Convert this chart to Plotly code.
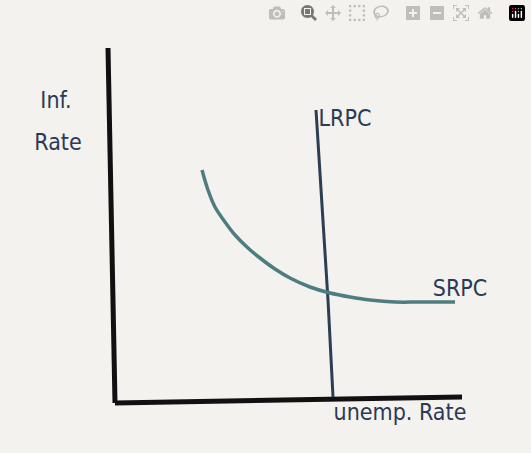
import plotly.graph_objects as go

# hand sketch, coordinates in picture units (y grows downward)
axis_y_x = [108, 110, 113, 115]
axis_y_y = [48, 170, 300, 403]
axis_x_x = [115, 250, 380, 462]
axis_x_y = [403, 401, 399, 397]

lrpc_x = [316, 322, 328, 333]
lrpc_y = [110, 205, 300, 397]

srpc_x = [202, 208, 215, 225, 235, 248, 260, 275, 290, 310, 330, 350, 370, 395, 420, 455]
srpc_y = [170, 190, 207, 222, 235, 248, 258, 269, 278, 287, 293, 297, 300, 302, 302, 302]

labels = ["Inf.", "Rate", "LRPC", "SRPC", "unemp. Rate"]
label_x = [56, 58, 345, 460, 400]
label_y = [102, 144, 120, 290, 414]

ink = "#2b3a55"

fig = go.Figure()
fig.add_trace(go.Scatter(x=axis_y_x, y=axis_y_y, mode="lines",
                         line=dict(color="#111111", width=5), hoverinfo="skip"))
fig.add_trace(go.Scatter(x=axis_x_x, y=axis_x_y, mode="lines",
                         line=dict(color="#111111", width=5), hoverinfo="skip"))
fig.add_trace(go.Scatter(x=lrpc_x, y=lrpc_y, mode="lines",
                         line=dict(color="#2c3e55", width=3), hoverinfo="skip"))
fig.add_trace(go.Scatter(x=srpc_x, y=srpc_y, mode="lines", line_shape="spline",
                         line=dict(color="#4e7d80", width=3.5), hoverinfo="skip"))
fig.add_trace(go.Scatter(x=label_x, y=label_y, mode="text", text=labels,
                         textfont=dict(family="DejaVu Sans Condensed, DejaVu Sans", size=23, color=ink),
                         hoverinfo="skip"))

fig.update_layout(
    width=531, height=453,
    margin=dict(l=0, r=0, t=0, b=0),
    paper_bgcolor="#f3f2ee", plot_bgcolor="#f3f2ee",
    showlegend=False,
    xaxis=dict(range=[0, 531], visible=False),
    yaxis=dict(range=[453, 0], visible=False),
)

fig.write_html("out.html", post_script="document.body.style.margin='0';document.body.style.background='#f3f2ee';")
